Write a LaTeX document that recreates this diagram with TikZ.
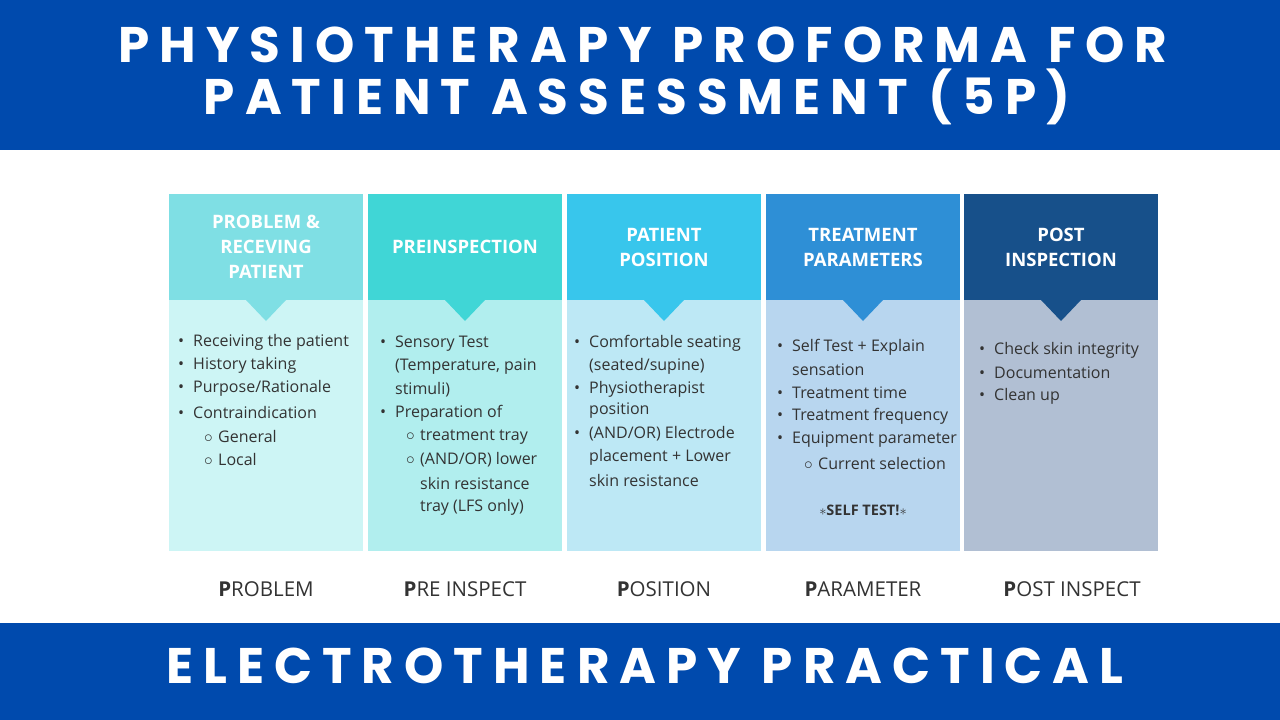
\documentclass[tikz,border=0pt]{standalone}
\usepackage{fontspec}
\setmainfont{Open Sans}
\newfontfamily\titlefont[LetterSpace=20]{Poppins Bold}
\newfontfamily\headfont{Open Sans Bold}
\definecolor{banner}{HTML}{004AAD}
\definecolor{txt}{HTML}{333333}
\definecolor{hA}{HTML}{7FDFE4}\definecolor{bA}{HTML}{CDF5F5}
\definecolor{hB}{HTML}{40D6D6}\definecolor{bB}{HTML}{B1EEEE}
\definecolor{hC}{HTML}{38C6EC}\definecolor{bC}{HTML}{BDE8F5}
\definecolor{hD}{HTML}{2E8FD6}\definecolor{bD}{HTML}{B8D6EF}
\definecolor{hE}{HTML}{17508A}\definecolor{bE}{HTML}{B1BFD3}
\tikzset{
 ttl/.style={text=white,font=\titlefont\fontsize{50}{52}\selectfont},
 hd/.style={text=white,font=\headfont\fontsize{18.5}{25}\selectfont,align=center},
 it/.style={text=txt,font=\fontsize{16}{18}\selectfont,anchor=west,inner sep=0pt},
 ft/.style={text=txt,font=\fontsize{20.5}{22}\selectfont,inner sep=0pt}
}
\newcommand{\bl}[4]{\node[it] (#1) at (#2,#3) {#4};}
\newcommand{\B}{\makebox[15pt][l]{\textbullet}}
\newcommand{\C}{\makebox[14pt][l]{$\circ$}}
\begin{document}
\begin{tikzpicture}[x=1pt,y=-1pt]
\useasboundingbox (0,0) rectangle (1280,720);
\fill[white] (0,0) rectangle (1280,720);
\fill[banner] (0,0) rectangle (1280,150);
\fill[banner] (0,623) rectangle (1280,720);
\node[ttl] (t1) at (643,45) {PHYSIOTHERAPY PROFORMA FOR};
\node[ttl] (t2) at (637,97) {PATIENT ASSESSMENT (5P)};
\node[ttl] (t3) at (645,666) {ELECTROTHERAPY PRACTICAL};
\foreach \x/\h/\b in {169/hA/bA,368/hB/bB,567/hC/bC,766/hD/bD,964/hE/bE}{
 \fill[\b] (\x,300) rectangle (\x+194,551);
 \fill[\h] (\x,194) rectangle (\x+194,300);
 \fill[\h] (\x+77,300) -- (\x+117,300) -- (\x+97,321) -- cycle;
}
\node[hd] (h1) at (266,247) {PROBLEM \&\\RECEVING\\PATIENT};
\node[hd] (h2) at (465,247) {PREINSPECTION};
\node[hd] (h3) at (664,247) {PATIENT\\POSITION};
\node[hd] (h4) at (863,247) {TREATMENT\\PARAMETERS};
\node[hd] (h5) at (1061,247) {POST\\INSPECTION};
% column 1
\bl{a1}{178}{342}{\B Receiving the patient}
\bl{a2}{178}{365}{\B History taking}
\bl{a3}{178}{388}{\B Purpose/Rationale}
\bl{a4}{178}{412}{\B Contraindication}
\bl{a5}{204}{436}{\C General}
\bl{a6}{204}{459}{\C Local}
% column 2
\bl{b1}{380}{344}{\B Sensory Test}
\bl{b2}{395}{367}{(Temperature, pain}
\bl{b3}{395}{390}{stimuli)}
\bl{b4}{380}{413}{\B Preparation of}
\bl{b5}{406}{437}{\C treatment tray}
\bl{b6}{406}{460}{\C (AND/OR) lower}
\bl{b7}{420}{483}{skin resistance}
\bl{b8}{420}{507}{tray (LFS only)}
% column 3
\bl{c1}{574}{343}{\B Comfortable seating}
\bl{c2}{589}{366}{(seated/supine)}
\bl{c3}{574}{389}{\B Physiotherapist}
\bl{c4}{589}{411}{position}
\bl{c5}{574}{434}{\B (AND/OR) Electrode}
\bl{c6}{589}{457}{placement + Lower}
\bl{c7}{589}{480}{skin resistance}
% column 4
\bl{d1}{777}{347}{\B Self Test + Explain}
\bl{d2}{792}{370}{sensation}
\bl{d3}{777}{393}{\B Treatment time}
\bl{d4}{777}{416}{\B Treatment frequency}
\bl{d5}{777}{440}{\B Equipment parameter}
\bl{d6}{804}{463}{\C Current selection}
\node[text=txt,font=\headfont\fontsize{14.5}{16}\selectfont] (d7) at (863,510) {$\ast$SELF TEST!$\ast$};
% column 5
\bl{e1}{979}{350}{\B Check skin integrity}
\bl{e2}{979}{373}{\B Documentation}
\bl{e3}{979}{396}{\B Clean up}
% footer
\node[ft] (f1) at (266,589) {\textbf{P}ROBLEM};
\node[ft] (f2) at (465,589) {\textbf{P}RE INSPECT};
\node[ft] (f3) at (664,589) {\textbf{P}OSITION};
\node[ft] (f4) at (863,589) {\textbf{P}ARAMETER};
\node[ft] (f5) at (1072,589) {\textbf{P}OST INSPECT};
\end{tikzpicture}
\end{document}
